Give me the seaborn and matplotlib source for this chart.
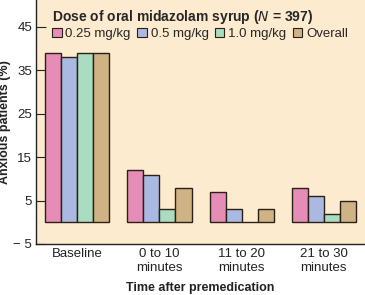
import pandas as pd
import seaborn as sns
import matplotlib.pyplot as plt
from matplotlib.patches import Patch

# data
periods = ["Baseline", "0 to 10\nminutes", "11 to 20\nminutes", "21 to 30\nminutes"]
doses = ["0.25 mg/kg", "0.5 mg/kg", "1.0 mg/kg", "Overall"]
dose_025 = [39, 12, 7, 8]
dose_05 = [38, 11, 3, 6]
dose_10 = [39, 3, 0, 2]
overall = [39, 8, 3, 5]
yticks = [-5, 5, 15, 25, 35, 45]

colors = ["#e58db6", "#a9b9e2", "#a9dcc1", "#cfb384"]
bg = "#fdebd0"
ink = "#222222"

df = pd.DataFrame({
    "period": periods * 4,
    "dose": [d for d in doses for _ in periods],
    "value": dose_025 + dose_05 + dose_10 + overall,
})

sns.set_theme(style="white")
plt.rcParams['font.family'] = ['Liberation Sans', 'DejaVu Sans']

fig = plt.figure(figsize=(3.65, 2.95), dpi=100)
ax = fig.add_axes([0.099, 0.173, 0.901, 0.827])
ax.set_facecolor(bg)

sns.barplot(data=df, x="period", y="value", hue="dose", order=periods,
            hue_order=doses, palette=colors, width=0.78, saturation=1,
            edgecolor="#2b2018", linewidth=1.0, legend=False, ax=ax)

ax.set_ylim(-5, 51.2)
ax.set_xlim(-0.5, 3.5)
ax.set_yticks(yticks)
ax.set_yticklabels(["\u2212 5" if t < 0 else str(t) for t in yticks])
ax.tick_params(axis="y", left=True, direction="in", length=7, width=0.8,
               color=ink, labelsize=9.5, pad=3, labelcolor=ink)
ax.tick_params(axis="x", bottom=False, length=0, labelsize=9.5, pad=3,
               labelcolor=ink)
for s in ["top", "right"]:
    ax.spines[s].set_visible(False)
for s in ["left", "bottom"]:
    ax.spines[s].set_color(ink)
    ax.spines[s].set_linewidth(1.0)

ax.set_xlabel("Time after premedication", fontsize=9, fontweight="bold",
              labelpad=6, color=ink)
ax.set_ylabel("Anxious patients (%)", fontsize=9, fontweight="bold",
              color=ink)
ax.yaxis.set_label_coords(-0.077, 0.5)

handles = [Patch(facecolor=c, edgecolor="#2b2018", linewidth=0.8) for c in colors]
leg = ax.legend(handles, doses, ncol=4, loc="upper left",
                bbox_to_anchor=(0.025, 1.0), frameon=False, fontsize=9.5,
                handlelength=0.7, handleheight=0.7, handletextpad=0.3,
                columnspacing=0.5, borderpad=0.1, labelspacing=0.15,
                title=r"Dose of oral midazolam syrup ($\mathit{N}$ = 397)",
                title_fontproperties={"weight": "bold", "size": 10})
leg._legend_box.align = "left"

fig.savefig("out.png", dpi=100)
